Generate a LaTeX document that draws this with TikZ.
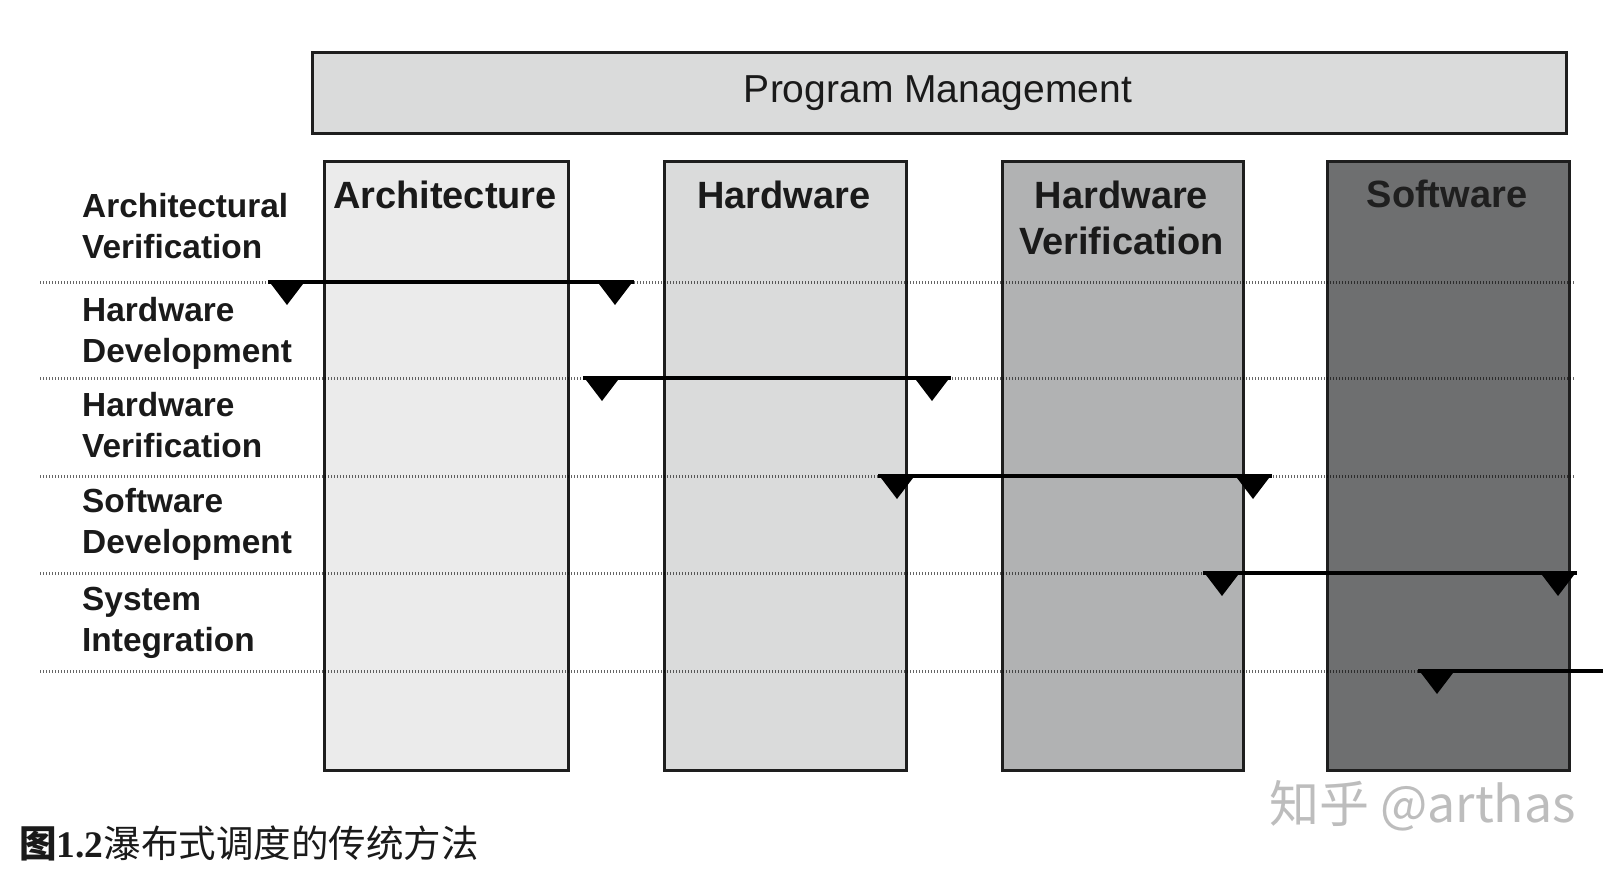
\documentclass[tikz,border=0pt]{standalone}
\usepackage{fontspec}
\setmainfont{Liberation Sans}
\newfontfamily\cjk{Noto Sans CJK SC}
\newfontfamily\capserif{Liberation Serif}
\definecolor{cA}{HTML}{EBEBEB}
\definecolor{cB}{HTML}{DADBDB}
\definecolor{cC}{HTML}{B1B2B3}
\definecolor{cD}{HTML}{6E6F70}
\definecolor{edge}{HTML}{1E1E1E}
\definecolor{ink}{HTML}{1A1A1A}
\definecolor{wm}{HTML}{BDBDBD}
\begin{document}
\begin{tikzpicture}[x=1pt,y=-1pt,
  colbox/.style={draw=edge, line width=2.5pt, anchor=north west, inner sep=0pt,
                 minimum height=609pt},
  pmbox/.style={draw=edge, line width=2.5pt, anchor=north west, inner sep=0pt,
                fill=cB, minimum width=1254pt, minimum height=81pt},
  hdr/.style={anchor=base, inner sep=0pt, align=center, text=ink,
              font=\fontsize{38}{46.5}\selectfont\bfseries},
  rowlab/.style={anchor=base west, inner sep=0pt, align=left, text=ink,
                 font=\fontsize{33.4}{40.5}\selectfont\bfseries},
  gridline/.style={draw=black, draw opacity=0.6, line width=3pt,
                   dash pattern=on 1.3pt off 1.7pt},
  bar/.style={draw=black, line width=4.5pt},
  tri/.pic={\fill[black] (-19,-2) -- (19,-2) -- (0,23) -- cycle;}
]
\useasboundingbox (0,0) rectangle (1617,870);

% program management
\node[pmbox] (pm) at (311,51) {};
\node[anchor=base, inner sep=0pt, text=ink, font=\fontsize{39}{46}\selectfont]
  (pmT) at (938,102) {Program Management};

% columns
\node[colbox, fill=cA, minimum width=244pt] (arch) at (323,160) {};
\node[colbox, fill=cB, minimum width=242pt] (hw)   at (663,160) {};
\node[colbox, fill=cC, minimum width=241pt] (hwv)  at (1001,160) {};
\node[colbox, fill=cD, minimum width=242pt, line width=3.2pt] (sw) at (1326,160) {};

\node[hdr] (archT) at (445,208) {Architecture};
\node[hdr] (hwT)   at (784,208) {Hardware};
\node[hdr] (hwvT)  at (1121.5,254.5) {Hardware\\Verification};
\node[hdr, text=black!88] (swT) at (1447,207) {Software};

% row labels (anchor on baseline of the second line)
\node[rowlab] (l1) at (82,258) {Architectural\\Verification};
\node[rowlab] (l2) at (82,362) {Hardware\\Development};
\node[rowlab] (l3) at (82,457) {Hardware\\Verification};
\node[rowlab] (l4) at (82,553) {Software\\Development};
\node[rowlab] (l5) at (82,651) {System\\Integration};

% dotted separators
\foreach \yy/\nm in {282/g1,378/g2,476/g3,573/g4,671/g5}{
  \coordinate (\nm a) at (40,\yy);
  \coordinate (\nm b) at (1575,\yy);
  \draw[gridline] (\nm a) -- (\nm b);
}

% milestone triangles
\coordinate (m1a) at (287,282);  \coordinate (m1b) at (615,282);
\coordinate (m2a) at (602,378);  \coordinate (m2b) at (932,378);
\coordinate (m3a) at (897,476);  \coordinate (m3b) at (1253,476);
\coordinate (m4a) at (1222,573); \coordinate (m4b) at (1558,573);
\coordinate (m5a) at (1437,671); \coordinate (m5e) at (1603,671);

\draw[bar] ([xshift=-19pt]m1a) -- ([xshift=19pt]m1b);
\draw[bar] ([xshift=-19pt]m2a) -- ([xshift=19pt]m2b);
\draw[bar] ([xshift=-19pt]m3a) -- ([xshift=19pt]m3b);
\draw[bar] ([xshift=-19pt]m4a) -- ([xshift=19pt]m4b);
\draw[bar] ([xshift=-19pt]m5a) -- (m5e);

\foreach \p in {m1a,m1b,m2a,m2b,m3a,m3b,m4a,m4b,m5a}{
  \pic at (\p) {tri};
}

% caption
\node[anchor=base west, inner sep=0pt, text=ink] (cap) at (19,857)
  {\fontsize{37.5}{45}\selectfont{\cjk\bfseries 图}{\capserif\bfseries 1.2}{\cjk 瀑布式调度的传统方法}};

% watermark
\node[anchor=base east, inner sep=0pt, text=wm] (wmk) at (1576,822)
  {\fontsize{50}{56}\selectfont\cjk 知乎 @arthas};
\end{tikzpicture}
\end{document}
